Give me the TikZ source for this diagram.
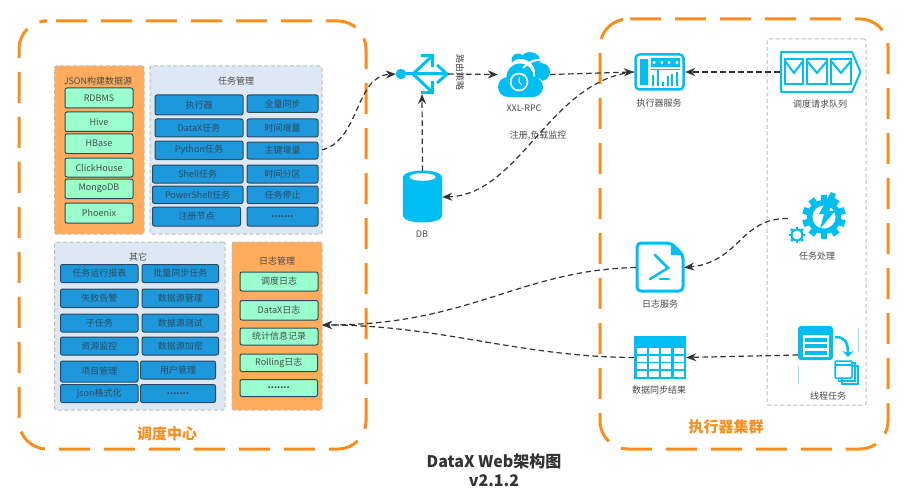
\documentclass[tikz,border=0pt]{standalone}
\usepackage{fontspec}
\setmainfont{Noto Sans CJK SC}
\usetikzlibrary{arrows.meta}
\definecolor{orangeline}{HTML}{F78E1E}
\definecolor{panelorange}{HTML}{FFAD5C}
\definecolor{panelblue}{HTML}{DEE8F4}
\definecolor{panelgrey}{HTML}{BBBBBB}
\definecolor{boxblue}{HTML}{1E98DC}
\definecolor{boxgreen}{HTML}{99FFCC}
\definecolor{boxedge}{HTML}{2B4A5E}
\definecolor{icon}{HTML}{00BEF2}
\definecolor{ink}{HTML}{4A4A4A}
\definecolor{edge}{HTML}{333333}
\tikzset{
  group/.style={draw=orangeline,line width=3pt,dash pattern=on 31pt off 14pt,rounded corners=28pt},
  grouptext/.style={text=orangeline,font=\fontsize{15}{17}\selectfont\bfseries,inner sep=0pt},
  panelshape/.style={draw=panelgrey,line width=1pt,dash pattern=on 4pt off 2.5pt,rounded corners=2pt,inner sep=0pt},
  panelo/.style={panelshape,fill=panelorange},
  panelb/.style={panelshape,fill=panelblue},
  panelw/.style={panelshape,fill=none},
  cardshape/.style={line width=1pt,draw=boxedge,rounded corners=2pt,inner sep=0pt,font=\fontsize{9}{10}\selectfont,text=boxedge},
  cardb/.style={cardshape,fill=boxblue},
  cardg/.style={cardshape,fill=boxgreen,text=ink},
  lbl/.style={font=\fontsize{9}{10}\selectfont,text=ink,inner sep=0pt},
  anchorbox/.style={inner sep=0pt,draw=none,fill=none},
  link/.style={draw=edge,line width=1.2pt,dash pattern=on 5.5pt off 3.5pt,-{Stealth[length=10pt,width=8pt]}},
  iconline/.style={draw=icon,line width=3pt},
}
\newcommand\rectnode[7]{%
  \pgfmathsetmacro\rw{#5-#3}\pgfmathsetmacro\rh{#6-#4}%
  \pgfmathsetmacro\rx{(#3+#5)/2}\pgfmathsetmacro\ry{(#4+#6)/2}%
  \node[#1,minimum width=\rw pt,minimum height=\rh pt] (#2) at (\rx,\ry) {#7};}
\newcommand\gearshape[4]{%
  \fill[icon] (#1,#2) circle (#3);
  \foreach \a in {1,...,#4}{
    \pgfmathsetmacro\ang{\a*360/#4}
    \fill[icon,shift={(#1,#2)},rotate=\ang] (-#3*0.2,-#3*0.9) rectangle (#3*0.2,-#3*1.28);
  }
  \fill[white] (#1,#2) circle (#3*0.68);}
\begin{document}
\begin{tikzpicture}[x=1pt,y=-1pt]
\useasboundingbox (0,0) rectangle (907,500);
% group outlines
\draw[group] (56,21) -- (366,21) -- (366,449) -- (19,449) -- (19,21) -- (42,21);
\draw[group] (630,19) -- (888,19) -- (888,449) -- (600,449) -- (600,19) -- (630,19);
\node[grouptext] (schedtitle) at (167,434) {调度中心};
\node[grouptext] (exectitle) at (726,427) {执行器集群};
% panels
\rectnode{panelo}{json}{54.5}{66}{144}{234}{}
\rectnode{panelb}{task}{150}{66}{322}{234}{}
\rectnode{panelb}{other}{54.5}{242}{225}{410}{}
\rectnode{panelo}{logs}{232}{242}{322}{410}{}
\rectnode{panelw}{workers}{767}{39}{866}{405}{}
\node[lbl] (jsontitle) at (98,81) {JSON构建数据源};
\node[lbl] (tasktitle) at (236,81) {任务管理};
\node[lbl] (othertitle) at (138,257) {其它};
\node[lbl] (logtitle) at (277,261) {日志管理};
% source cards
\rectnode{cardg}{s1}{65}{88}{133}{108}{RDBMS}
\rectnode{cardg}{s2}{65}{112}{133}{131.5}{Hive}
\rectnode{cardg}{s3}{65}{134}{133}{153.5}{HBase}
\rectnode{cardg}{s4}{65}{158}{133}{177}{ClickHouse}
\rectnode{cardg}{s5}{65}{179}{133}{198.5}{MongoDB}
\rectnode{cardg}{s6}{65}{203}{133}{223}{Phoenix}
% task cards
\rectnode{cardb}{t1}{155}{95}{243}{115}{执行器}
\rectnode{cardb}{t2}{247}{95}{318}{112.5}{全量同步}
\rectnode{cardb}{t3}{155}{119}{243}{137}{DataX任务}
\rectnode{cardb}{t4}{247}{119}{318}{137}{时间增量}
\rectnode{cardb}{t5}{155}{141}{243}{159.5}{Python任务}
\rectnode{cardb}{t6}{247}{142}{318}{159}{主键增量}
\rectnode{cardb}{t7}{152.5}{165}{243}{183}{Shell任务}
\rectnode{cardb}{t8}{247}{165}{318}{183}{时间分区}
\rectnode{cardb}{t9}{152.5}{186}{243}{203.5}{PowerShell任务}
\rectnode{cardb}{t10}{247}{186}{318}{203.5}{任务停止}
\rectnode{cardb}{t11}{152.5}{207}{240.5}{226}{注册节点}
\rectnode{cardb}{t12}{247}{207}{318}{226}{\textbf{.......}}
% other cards
\rectnode{cardb}{o1}{60.5}{264.5}{138}{282.5}{任务运行报表}
\rectnode{cardb}{o2}{142}{264.5}{218.5}{282.5}{批量同步任务}
\rectnode{cardb}{o3}{60.5}{289}{138}{307.5}{失败告警}
\rectnode{cardb}{o4}{142}{289}{218.5}{307.5}{数据源管理}
\rectnode{cardb}{o5}{60.5}{314}{138}{332}{子任务}
\rectnode{cardb}{o6}{142}{314}{218.5}{332}{数据源测试}
\rectnode{cardb}{o7}{60.5}{337}{138}{355}{资源监控}
\rectnode{cardb}{o8}{142}{337}{218.5}{355}{数据源加密}
\rectnode{cardb}{o9}{60.5}{361}{138}{382}{项目管理}
\rectnode{cardb}{o10}{140.5}{361}{215.5}{379}{用户管理}
\rectnode{cardb}{o11}{60.5}{384.5}{138}{402.5}{json格式化}
\rectnode{cardb}{o12}{140.5}{384.5}{215.5}{402.5}{\textbf{.......}}
% log cards
\rectnode{cardg}{l1}{240}{272}{318}{291}{调度日志}
\rectnode{cardg}{l2}{240}{300.5}{318}{320}{DataX日志}
\rectnode{cardg}{l3}{240}{328}{318}{345}{统计信息记录}
\rectnode{cardg}{l4}{240}{354}{317.5}{371.5}{Rolling日志}
\rectnode{cardg}{l5}{240}{379.5}{317.5}{396.5}{\textbf{.......}}
% router icon
\fill[icon] (401,74) circle (5.2);
\draw[iconline] (401,74) -- (447,74);
\draw[iconline] (437,65) -- (447,74) -- (437,83);
\draw[iconline] (413,74) -- (431,57);
\draw[iconline] (421,55.5) -- (432.5,55.5) -- (432.5,67);
\draw[iconline] (413,74) -- (431,91);
\draw[iconline] (421,92.5) -- (432.5,92.5) -- (432.5,81);
\rectnode{anchorbox}{router}{396}{54}{448}{94}{}
% cloud icon
\fill[icon] (530,63) circle (11);
\fill[icon] (541,72) circle (9);
\fill[icon] (518,60) circle (6.5);
\fill[icon] (530,74) circle (12);
\fill[white] (521,73) circle (14);
\fill[white] (536,87) circle (9);
\fill[icon] (520,77) circle (13.5);
\fill[icon] (508,87) circle (10);
\fill[icon] (533,87) circle (10);
\fill[icon] (508,87) rectangle (533,97);
\fill[white] (519,82) circle (9.3);
\fill[icon] (519,82) circle (7.5);
\draw[white,line width=1pt] (519,77) -- (519,82) -- (522,85);
\draw[white,line width=2pt,-{Stealth[length=6pt,width=7pt]}] (523,68) .. controls (529,62) and (536,59) .. (546,60);
\rectnode{anchorbox}{cloud}{498}{52}{550}{97}{}
% db icon
\fill[icon] (403,177) -- (403,216) arc[start angle=180,end angle=360,x radius=19.5,y radius=-6.5] -- (442,177) arc[start angle=0,end angle=180,x radius=19.5,y radius=-6.5] -- cycle;
\fill[white] (422.5,177) ellipse (13 and 3.8);
\rectnode{anchorbox}{db}{403}{171}{442}{223}{}
% executor service icon
\draw[icon,line width=2.5pt,rounded corners=4pt] (635.5,54.5) rectangle (683.5,89.5);
\fill[icon] (640,59) rectangle (648,85.5);
\fill[icon] (651,58.5) rectangle (680,67);
\foreach \i in {654,662,669,677}{\fill[white] (\i,62.5) circle (1.7);}
\draw[icon,line width=1.4pt] (651,69.5) -- (680,69.5);
\foreach \x/\t in {653/75,658/70,663/82,668/76,672/74,677/72}{\fill[icon] (\x-1,\t) rectangle (\x+1,86);}
\rectnode{anchorbox}{execsvc}{634}{53}{685}{91}{}
% queue icon
\draw[icon,line width=2pt,line join=round] (781,52) -- (852,52) -- (860.5,72) -- (852,92) -- (781,92) -- cycle;
\foreach \xa/\xb in {785/803,807/827,831/851}{
  \draw[icon,line width=2pt] (\xa,59) rectangle (\xb,84);
  \draw[icon,line width=2pt] (\xa,61) -- ({(\xa+\xb)/2},73) -- (\xb,61);
}
\rectnode{anchorbox}{queue}{780}{52}{861}{92}{}
% gear icon
\gearshape{824}{217}{17}{10}
\fill[icon] (831,192) -- (836,194) -- (829,211) -- (835,211) -- (820,229) -- (824,214) -- (819,214) -- cycle;
\gearshape{797}{235}{6.5}{8}
\rectnode{anchorbox}{gear}{788}{192}{848}{245}{}
% log service icon
\draw[icon,line width=3pt,line join=round,rounded corners=4pt] (637,243) -- (671,243) -- (683,255) -- (683,291) -- (637,291) -- cycle;
\fill[icon] (671,243) -- (683,255) -- (671,255) -- cycle;
\draw[icon,line width=2.5pt,line cap=round] (655,255) -- (668,268) -- (650,279);
\draw[icon,line width=2.5pt,line cap=round] (660,279) -- (669,279);
\rectnode{anchorbox}{logsvc}{636}{242}{684}{293}{}
% result table icon
\fill[icon] (634,336) rectangle (686,379);
\foreach \r in {0,1,2,3}{\foreach \c in {0,1,2,3}{
  \fill[white] ({636.5+\c*12.4},{348+\r*7.7}) rectangle ({646.5+\c*12.4},{353.8+\r*7.7});
}}
\rectnode{anchorbox}{table}{634}{336}{686}{379}{}
% thread icon
\fill[icon,rounded corners=3pt] (798,326) rectangle (833,360);
\fill[white] (803,335) rectangle (829,357);
\foreach \y in {337.5,344,350.5}{\fill[icon] (805,\y) rectangle (827,\y+4);}
\draw[icon,line width=2.5pt,-{Stealth[length=6pt,width=11pt]}] (835,337) .. controls (844,337) and (848,341) .. (848,357);
\draw[icon,line width=1.2pt] (842,366) rectangle (858,384);
\draw[icon,line width=1.2pt] (838.5,363) rectangle (855,381);
\fill[white] (835,361) rectangle (852,378);
\draw[icon,line width=1.5pt,rounded corners=1pt] (835,361) rectangle (852,378);
\draw[icon,line width=1.2pt] (835,365) -- (852,365);
\draw[icon!45,line width=0.8pt] (858.5,328) -- (858.5,352);
\draw[icon!45,line width=0.8pt] (798.5,366) -- (798.5,384);
\rectnode{anchorbox}{thread}{798}{326}{858}{384}{}
% labels
\node[lbl] (lxxl) at (524,108) {XXL-RPC};
\node[lbl] (ldb) at (422,234) {DB};
\node[lbl] (lexec) at (659,103) {执行器服务};
\node[lbl] (lqueue) at (820,104) {调度请求队列};
\node[lbl] (lgear) at (817,256) {任务处理};
\node[lbl] (llog) at (660,304) {日志服务};
\node[lbl] (ltable) at (659,390) {数据同步结果};
\node[lbl] (lthread) at (828,396) {线程任务};
\node[lbl,rotate=-90] (lroute) at (460,73) {路由策略};
\node[lbl] (lreg) at (538,136) {注册,负载监控};
% connectors
\draw[link] (322,150) .. controls (360,140) and (355,76) .. (router.west);
\draw[link] (router.east) -- (cloud.west);
\draw[link] (db.north) -- (422,94);
\draw[link] (cloud.east) -- (execsvc.west);
\draw[link] (execsvc.west) .. controls (550,80) and (520,195) .. (db.east);
\draw[link] (queue.west) -- (execsvc.east);
\draw[link] (gear.west) .. controls (740,218) and (740,262) .. (logsvc.east);
\draw[link] (logsvc.west) .. controls (520,270) and (470,325) .. (322,325);
\draw[link] (table.west) .. controls (520,357) and (440,325) .. (322,325);
\draw[link] (thread.west) -- (table.east);
% title
\node[font=\fontsize{16}{18}\selectfont\bfseries,text=edge,inner sep=0pt] (title1) at (494,461) {DataX Web架构图};
\node[font=\fontsize{16}{18}\selectfont\bfseries,text=edge,inner sep=0pt] (title2) at (494,481) {v2.1.2};
\end{tikzpicture}
\end{document}
